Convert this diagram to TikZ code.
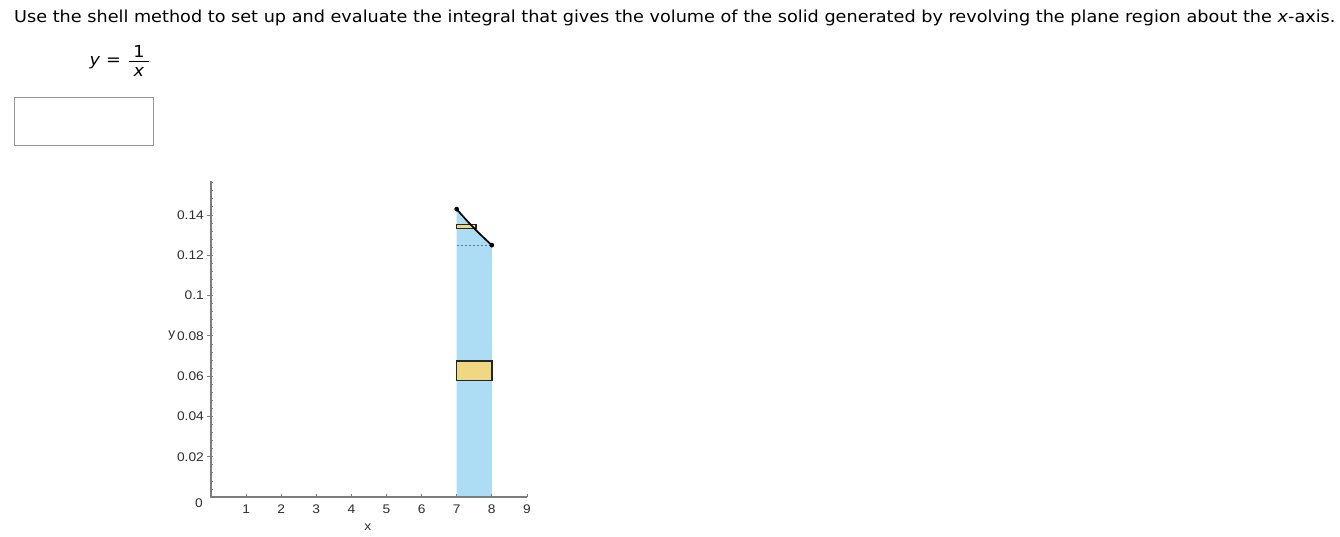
\documentclass[tikz,border=0pt]{standalone}
\usepackage{fontspec}
\setmainfont{DejaVu Sans}[FakeStretch=1.07]
\newfontfamily\plotfont{Liberation Sans}[FakeStretch=1.1]
\usetikzlibrary{positioning}
\definecolor{shellblue}{RGB}{173,220,245}
\definecolor{stripyellow}{RGB}{240,216,130}
\definecolor{axisgray}{RGB}{125,125,125}
\definecolor{boxgray}{RGB}{150,150,150}
\definecolor{labelgray}{RGB}{45,45,45}
\definecolor{dashblue}{RGB}{100,125,150}

\begin{document}
\begin{tikzpicture}[x=1pt, y=1pt, font=\fontsize{16.5}{19}\selectfont,
  plotlabel/.style={font=\plotfont\fontsize{12.5}{14}\selectfont, text=labelgray, inner sep=0pt},
  strip/.style={draw=black!85, line width=1.4pt, fill=stripyellow}]
%
\useasboundingbox (0,0) rectangle (1340,-536);

% QUESTION
\node [anchor=west, inner sep=0pt] (question) at (14,-18) {Use the shell method to set up and evaluate the integral that gives the volume of the solid generated by revolving the plane region about the \textit{x}-axis.};
% EQUATION
\node [anchor=east, inner sep=0pt] (eqlhs) at (121,-63) {\textit{y} =};
\node [inner sep=0pt] (fracnum) at (139,-51) {1};
\node [inner sep=0pt, below=10pt of fracnum] (fracden) {\textit{x}};
\draw [line width=1pt] ([xshift=-10pt]fracnum.south) ++(0,-4.5pt) -- ++(20pt,0);

% ANSWER BOX
\node [draw=boxgray, line width=1.3pt, minimum width=139pt, minimum height=48pt, anchor=north west] (answer) at (14,-97) {};

% PLOT
\begin{scope}[shift={(211,-497)}, x=35.1pt, y=20.15pt]
% region between x=7 and x=8
\fill [shellblue] (7,0) -- plot [domain=7:8, samples=20] (\x, {100/\x}) -- (8,0) -- cycle;
\coordinate (pleft) at (7,{100/7});
\coordinate (pright) at (8,12.5);
\coordinate (dashleft) at (7,12.5);
\draw [dashblue, line width=1.2pt, dash pattern=on 2.5pt off 1.5pt] (dashleft) -- (pright);
% representative rectangles
\draw [strip] (7,13.33) rectangle (7.55,13.53);
\draw [strip] (7,5.77) rectangle (8,6.75);
% curve y = 1/x
\draw [line width=1.7pt] plot [domain=7:8, samples=20] (\x, {100/\x});
\fill (pleft) circle (2.4pt);
\fill (pright) circle (2.4pt);

% AXES
\draw [axisgray, line width=1.2pt] (0,15.7) -- (0,0) -- (9,0);
\foreach \t in {0.4,0.8,...,15.61}
  \draw [axisgray, line width=0.7pt] ([xshift=-1.5pt]0,\t) -- ++(3pt,0);
\foreach \v in {2,4,...,14}
  \draw [axisgray, line width=0.7pt] (0,\v) -- ++(-4pt,0);
\foreach \n in {1,...,9}
  \draw [axisgray, line width=0.7pt] (\n,0) -- ++(0,3pt);

% tick labels
\foreach \v/\lab in {2/0.02, 4/0.04, 6/0.06, 8/0.08, 10/0.1, 12/0.12, 14/0.14}
  \node [plotlabel, anchor=east] (ylab\v) at ([xshift=-7pt]0,\v) {\lab};
\node [plotlabel, anchor=east] (ylab0) at ([xshift=-8pt, yshift=-6pt]0,0) {0};
\foreach \n in {1,...,9}
  \node [plotlabel] (xlab\n) at ([yshift=-12pt]\n,0) {\n};
% axis titles
\node [plotlabel, left=1.5pt of ylab8] (ytitle) {y};
\node [plotlabel] (xtitle) at ([yshift=-30pt]4.47,0) {x};
\end{scope}
\end{tikzpicture}
\end{document}
